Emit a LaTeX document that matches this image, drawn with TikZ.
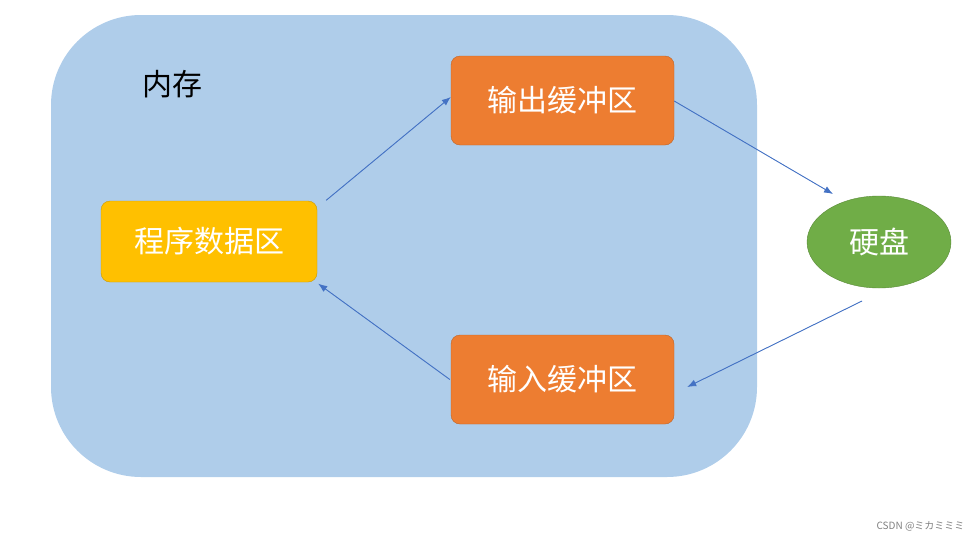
\documentclass[tikz,border=0pt]{standalone}
\usepackage{fontspec}
\usetikzlibrary{shapes.geometric,arrows.meta}
\newfontfamily\cjk{Noto Sans CJK SC}
\newfontfamily\jp{Noto Sans CJK JP}
\begin{document}
\begin{tikzpicture}[x=1pt,y=-1pt,
  box/.style={draw=#1!80!black,rounded corners=9pt,text=white,font=\cjk\fontsize{30}{34}\selectfont,inner sep=0pt},
  arr/.style={-{Latex[length=9pt,width=7pt]},line width=0.9pt}]
\definecolor{mem}{HTML}{AFCDEA}
\definecolor{orng}{HTML}{ED7D31}
\definecolor{gold}{HTML}{FFC000}
\definecolor{grn}{HTML}{70AD47}
\definecolor{arrc}{HTML}{4472C4}
\useasboundingbox (0,0) rectangle (980,541);
\fill[mem,rounded corners=90pt] (51,15) rectangle (757,477);
\node[font=\cjk\fontsize{30}{34}\selectfont] (mem) at (172,84) {内存};
\node[box=orng,fill=orng,minimum width=223pt,minimum height=89pt] (out) at (562.5,100.5) {输出缓冲区};
\node[box=gold,fill=gold,minimum width=216pt,minimum height=81pt] (prog) at (209,241.5) {程序数据区};
\node[box=orng,fill=orng,minimum width=223pt,minimum height=89pt] (in) at (562.5,379.5) {输入缓冲区};
\node[ellipse,draw=grn!80!black,fill=grn,minimum width=144pt,minimum height=92pt,text=white,font=\cjk\fontsize{30}{34}\selectfont,inner sep=0pt] (disk) at (879,242) {硬盘};
\coordinate (a1) at ([shift={(9,-0.5)}]prog.north east);
\coordinate (a2) at ([yshift=3.5]out.west);
\coordinate (b1) at ([yshift=-0.5]out.east);
\coordinate (b2) at (833,194);
\coordinate (c1) at (862,301);
\coordinate (c2) at ([shift={(13,7.5)}]in.east);
\coordinate (d1) at ([xshift=-1]in.west);
\coordinate (d2) at ([shift={(1,1.5)}]prog.south east);
\draw[arr,draw=arrc,fill=arrc] (a1) -- (a2);
\draw[arr,draw=arrc,fill=arrc] (b1) -- (b2);
\draw[arr,draw=arrc,fill=arrc] (c1) -- (c2);
\draw[arr,draw=arrc,fill=arrc] (d1) -- (d2);
\node[text=gray,font=\jp\fontsize{10}{12}\selectfont,anchor=east] (wm) at (968,526) {CSDN @ミカミミミ};
\end{tikzpicture}
\end{document}
